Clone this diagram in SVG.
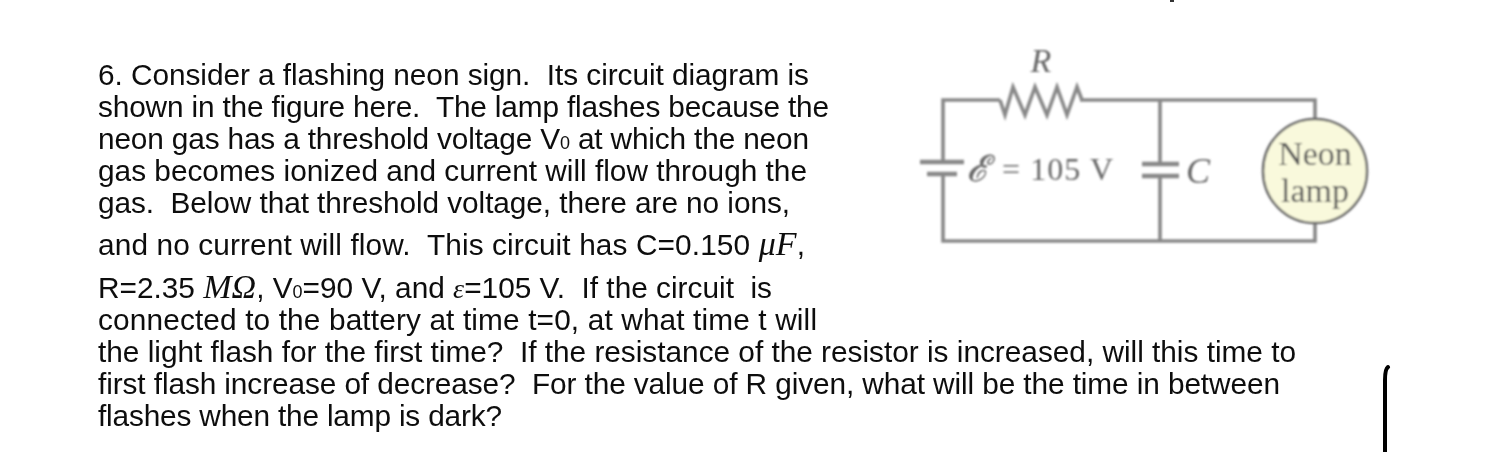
<svg xmlns="http://www.w3.org/2000/svg" width="1485" height="452" viewBox="0 0 1485 452">
<style>
.t{font-family:"Liberation Sans",Arial,sans-serif;font-size:29.8px;fill:#0c0c0c;white-space:pre}
.m{font-family:"Liberation Serif","Times New Roman",serif;font-style:italic;font-size:34px}
.w{fill:none;stroke:#888;stroke-width:3.6}
.p{fill:none;stroke:#888;stroke-width:4.5}
.c{font-family:"Liberation Serif","Times New Roman",serif;fill:#666}
.s{font-size:18px}
</style>
<defs>
<filter id="b" x="-5%" y="-5%" width="110%" height="110%"><feGaussianBlur stdDeviation="0.85"/></filter>
<filter id="a" x="-2%" y="-2%" width="104%" height="104%"><feGaussianBlur stdDeviation="0.3"/></filter>
</defs>
<rect width="1485" height="452" fill="#fff"/>
<g id="question" filter="url(#a)">
<text class="t" x="98" y="84.5" textLength="711">6. Consider a flashing neon sign.  Its circuit diagram is</text>
<text class="t" x="98" y="116.5" textLength="731">shown in the figure here.  The lamp flashes because the</text>
<text class="t" x="98" y="148.5" textLength="711">neon gas has a threshold voltage V<tspan class="s">0</tspan> at which the neon</text>
<text class="t" x="98" y="180.5" textLength="709">gas becomes ionized and current will flow through the</text>
<text class="t" x="98" y="212.5" textLength="692">gas.  Below that threshold voltage, there are no ions,</text>
<text class="t" x="98" y="254.5" textLength="707">and no current will flow.  This circuit has C=0.150 <tspan class="m">μF</tspan>,</text>
<text class="t" x="98" y="297.5" textLength="674">R=2.35 <tspan class="m">MΩ</tspan>, V<tspan class="s">0</tspan>=90 V, and <tspan class="m" style="font-size:28px">ε</tspan>=105 V.  If the circuit  is</text>
<text class="t" x="98" y="329.5" textLength="719">connected to the battery at time t=0, at what time t will</text>
<text class="t" x="98" y="361.5" textLength="1198">the light flash for the first time?  If the resistance of the resistor is increased, will this time to</text>
<text class="t" x="98" y="393.5" textLength="1182">first flash increase of decrease?  For the value of R given, what will be the time in between</text>
<text class="t" x="98" y="425.5" textLength="404">flashes when the lamp is dark?</text>
</g>
<g filter="url(#b)">
<g id="connectors">
<path class="w" d="M1000 100H943V162M943 174V241H1315V222M1315 119V100H1080M1160 100V164M1160 176V241"/>
</g>
<g id="resistor">
<path class="w" d="M1000 100L1005 115L1013 87L1025 115L1035 87L1047 115L1057 87L1067 115L1077 87L1082 100"/>
<text class="c" x="1041" y="72" font-size="34" font-style="italic" text-anchor="middle">R</text>
</g>
<g id="battery">
<path class="p" d="M920 162H964M927 174H957"/>
<text class="c" x="967" y="181" font-size="36" font-style="italic" stroke="#666" stroke-width="0.6">ℰ</text>
<text class="c" x="1002" y="180" font-size="32" textLength="111">= 105 V</text>
</g>
<g id="capacitor">
<path class="p" d="M1142 164H1179M1142 176H1179"/>
<text class="c" x="1186" y="183" font-size="36" font-style="italic">C</text>
</g>
<g id="neon-lamp">
<circle cx="1315" cy="171" r="52" fill="#f9f9dc" stroke="#666" stroke-width="2.5"/>
<text class="c" x="1315" y="165" font-size="34" style="fill:#555" text-anchor="middle">Neon</text>
<text class="c" x="1315" y="202" font-size="34" style="fill:#555" text-anchor="middle">lamp</text>
</g>
</g>
<g id="pen-marks">
<path d="M1388 367Q1385 369 1385 380V452" fill="none" stroke="#000" stroke-width="4" stroke-linecap="round"/>
<rect x="1170" y="0" width="4" height="2" fill="#333"/>
</g>
</svg>
